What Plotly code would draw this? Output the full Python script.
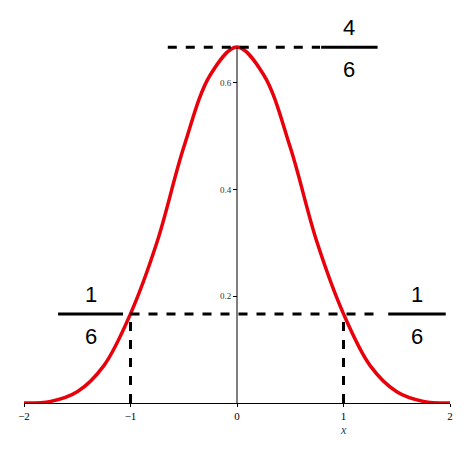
import plotly.graph_objects as go

# cubic B-spline values
x_vals = [-2, -1.75, -1.5, -1.25, -1, -0.75, -0.5, -0.25, 0,
          0.25, 0.5, 0.75, 1, 1.25, 1.5, 1.75, 2]
y_vals = [0, 0.003, 0.021, 0.070, 0.167, 0.302, 0.479, 0.615, 0.667,
          0.615, 0.479, 0.302, 0.167, 0.070, 0.021, 0.003, 0]
x_ticks = [-2, -1, 0, 1, 2]
y_ticks = [0.2, 0.4, 0.6]
peak = 4 / 6
knot = 1 / 6

fig = go.Figure(go.Scatter(x=x_vals, y=y_vals, mode="lines",
                           line=dict(color="#e8000b", width=3.5, shape="spline"),
                           cliponaxis=False))

black = dict(color="black", width=3)
shapes = [
    dict(type="line", x0=0, x1=0, y0=0, y1=peak, line=dict(color="black", width=1)),
    dict(type="line", x0=-0.65, x1=0.78, y0=peak, y1=peak, line=dict(black, dash="dash")),
    dict(type="line", x0=0.79, x1=1.32, y0=peak, y1=peak, line=black),
    dict(type="line", x0=-1.68, x1=-1.07, y0=knot, y1=knot, line=black),
    dict(type="line", x0=-1.0, x1=1.35, y0=knot, y1=knot, line=dict(black, dash="dash")),
    dict(type="line", x0=1.42, x1=1.96, y0=knot, y1=knot, line=black),
    dict(type="line", x0=-1, x1=-1, y0=0, y1=knot, line=dict(black, dash="dash")),
    dict(type="line", x0=1, x1=1, y0=0, y1=knot, line=dict(black, dash="dash")),
]

frac = dict(family="Liberation Sans, Arial", size=22, color="black")
annotations = []
for fx, fy, num in [(1.05, peak, "4"), (-1.37, knot, "1"), (1.69, knot, "1")]:
    annotations.append(dict(x=fx, y=fy, text=num, showarrow=False, font=frac, yshift=20))
    annotations.append(dict(x=fx, y=fy, text="6", showarrow=False, font=frac, yshift=-22))
annotations.append(dict(x=1.0, yref="paper", y=-0.09, text="<i>x</i>", showarrow=False,
                        font=dict(family="Liberation Serif", size=12)))
annotations.append(dict(xref="paper", yref="paper", x=-0.05, y=-0.125, xanchor="left",
                        yanchor="top",
                        text="<b>Figure 6</b>. Continuous cubic B-spline, and discrete cubic",
                        showarrow=False,
                        font=dict(family="Liberation Serif", size=19, color="black")))

fig.update_layout(
    width=474, height=457, margin=dict(l=16, r=32, t=0, b=62),
    plot_bgcolor="white", paper_bgcolor="white", showlegend=False,
    shapes=shapes, annotations=annotations,
    xaxis=dict(range=[-2, 2], tickvals=x_ticks, ticktext=["−2", "−1", "0", "1", "2"],
               showgrid=False, zeroline=False, showline=True, linecolor="black",
               ticks="outside", ticklen=3, tickcolor="black",
               tickfont=dict(family="Liberation Serif", size=11, color="black")),
    yaxis=dict(range=[0, 0.74], tickvals=y_ticks, showgrid=False, zeroline=False,
               showline=False, anchor="free", position=0.5,
               ticks="outside", ticklen=4, tickcolor="black",
               tickfont=dict(family="Liberation Serif", size=9, color="#333")),
)

fig.write_html("out.html")
